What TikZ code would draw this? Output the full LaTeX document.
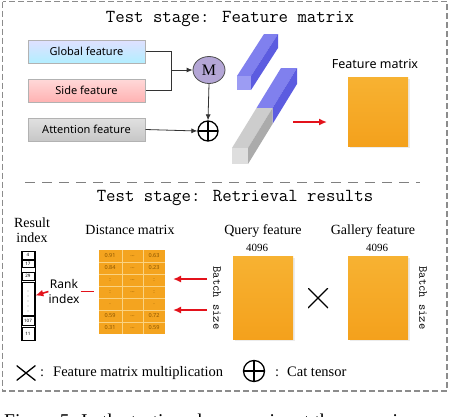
\documentclass[tikz,border=0pt]{standalone}
\usepackage{fontspec}
\setmainfont{Liberation Serif}
\setsansfont{Noto Sans}
\usetikzlibrary{arrows.meta,shapes.geometric,shadows}

\definecolor{orangeA}{HTML}{F7B232}
\definecolor{orangeB}{HTML}{F4A11C}
\definecolor{gridline}{HTML}{FAD281}
\definecolor{cellink}{HTML}{8A5500}
\definecolor{arrowred}{HTML}{E3121B}
\definecolor{mergefill}{HTML}{B4A6D6}
\definecolor{barfront}{HTML}{8080EE}
\definecolor{barside}{HTML}{5C5CE0}
\definecolor{barend}{HTML}{9C9CF3}
\definecolor{grayfront}{HTML}{CDCDCD}
\definecolor{grayside}{HTML}{ABABAB}
\definecolor{grayend}{HTML}{DEDEDE}

\tikzset{
	featbox/.style={draw=black!30,line width=1pt,minimum width=117pt,minimum height=23pt,inner sep=0pt,font=\sffamily\fontsize{11}{13}\selectfont},
	featmat/.style={top color=orangeA,bottom color=orangeB,draw=none,minimum width=60pt,inner sep=0pt,
		drop shadow={opacity=0.15,shadow xshift=1.5pt,shadow yshift=-1.5pt}},
	cattensor/.style={circle,draw=black,line width=1.3pt,minimum size=20pt,inner sep=0pt,
		path picture={\draw[line width=1.3pt] (path picture bounding box.north) -- (path picture bounding box.south)
			(path picture bounding box.west) -- (path picture bounding box.east);}},
	matmul/.style={minimum width=20pt,minimum height=20pt,inner sep=0pt,
		path picture={\draw[line width=1.3pt] (path picture bounding box.north west) -- (path picture bounding box.south east)
			(path picture bounding box.south west) -- (path picture bounding box.north east);}},
	stagetitle/.style={font=\ttfamily\fontsize{18.3}{20}\selectfont,inner sep=0pt},
	seriflbl/.style={font=\fontsize{14}{15}\selectfont,inner sep=0pt,align=center},
	batch/.style={font=\ttfamily\fontsize{12.2}{13}\selectfont,rotate=-90,inner sep=0pt},
	idxcell/.style={draw=black,line width=0.6pt,minimum width=12pt,inner sep=0pt,font=\sffamily\fontsize{4.5}{5}\selectfont},
	conn/.style={draw=black!80,line width=0.8pt},
	redarrow/.style={draw=arrowred,line width=1.6pt,-{Latex[length=8pt,width=7pt]}},
}

\begin{document}
\begin{tikzpicture}[x=1pt,y=-1pt]
	\clip (0,0) rectangle (474,416);
	\fill[white] (0,0) rectangle (474,416);
	% outer frame and separator
	\draw[draw=black!45,line width=1.4pt,dash pattern=on 6pt off 3pt] (2.5,1.5) rectangle (447,391);
	\draw[draw=black!50,line width=0.9pt,dash pattern=on 10pt off 7pt] (25,182) -- (420,182);

	% test stage: feature matrix
	\node[stagetitle] (ttop) at (230,19) {Test stage: Feature matrix};
	\node[featbox,top color=blue!12,bottom color=blue!22!cyan!30] (glob) at (86.5,51.5) {Global feature};
	\node[featbox,top color=red!15,bottom color=red!30] (side) at (86.5,90.5) {Side feature};
	\node[featbox,top color=black!12,bottom color=black!22] (att) at (86.5,129.5) {Attention feature};
	\node[ellipse,fill=mergefill,draw=black!70,line width=0.8pt,minimum width=32pt,minimum height=27pt,inner sep=0pt,font=\fontsize{16}{16}\selectfont] (mrg) at (209,70) {M};
	\node[cattensor] (cat) at (208,131) {};
	\coordinate (jn) at (171,70);
	\draw[conn] (glob.east) -| (jn);
	\draw[conn] (side.east) -| (jn);
	\draw[conn,-{Latex[length=6pt,width=5pt]}] (jn) -- (mrg.west);
	\draw[conn,-{Latex[length=6pt,width=5pt]}] (mrg.south) -- (cat.north);
	\draw[conn,-{Latex[length=6pt,width=5pt]}] (att.east) -- (cat.west);

	% bars
	\fill[barfront] (237,76) -- (251,76) -- (278,34) -- (264,34) -- cycle;
	\fill[barside] (251,76) -- (251,90) -- (278,48) -- (278,34) -- cycle;
	\fill[barend] (237,76) rectangle (251,90);
	\fill[barfront] (256.5,108) -- (272.5,108) -- (297,68) -- (281,68) -- cycle;
	\fill[barside] (272.5,108) -- (272.5,124) -- (297,84) -- (297,68) -- cycle;
	\fill[grayfront] (232,148) -- (248,148) -- (272.5,108) -- (256.5,108) -- cycle;
	\fill[grayside] (248,148) -- (248,164) -- (272.5,124) -- (272.5,108) -- cycle;
	\fill[grayend] (232,148) rectangle (248,164);

	\coordinate (ra0) at (293,122);
	\coordinate (ra1) at (327,122);
	\draw[redarrow] (ra0) -- (ra1);
	\node[font=\sffamily\fontsize{12.5}{13}\selectfont,inner sep=0pt] (fml) at (375,64) {Feature matrix};
	\node[featmat,minimum height=69pt] (fm) at (378,111.5) {};

	% test stage: retrieval results
	\node[stagetitle] (tbot) at (235,198) {Test stage: Retrieval results};
	\node[seriflbl] (resl) at (32,230.5) {Result\\index};
	\node[seriflbl] (distl) at (130,230) {Distance matrix};
	\node[seriflbl] (qryl) at (263,231) {Query feature};
	\node[seriflbl] (gall) at (373,231) {Gallery feature};
	\node[font=\fontsize{11}{12}\selectfont,inner sep=0pt] (qn) at (257,248) {4096};
	\node[font=\fontsize{11}{12}\selectfont,inner sep=0pt] (gn) at (377,248) {4096};

	% result index
	\node[draw=black,line width=0.7pt,minimum width=14pt,minimum height=89pt,inner sep=0pt] (col) at (28,295.5) {};
	\foreach \yy/\hh/\t in {255/8/4, 263.5/7/17, 276/8/29, 298.5/33/{}, 320.5/9/107, 333.5/13/11}
		\node[idxcell,minimum height=\hh pt] (c\yy) at (28,\yy) {\t};
	\foreach \yy in {291,296,301,306,311}
		\fill (28,\yy) circle (0.45pt);
	\node[font=\sffamily\fontsize{12}{15}\selectfont,inner sep=0pt,align=center] (rank) at (64,291.5) {Rank\\index};
	\draw[redarrow] (rank.west) -- (col.east);
	\draw[draw=arrowred,line width=1.6pt] ([xshift=1pt]rank.east) -- ++(13,0);

	% distance matrix
	\node[fill=orangeB!85!orangeA,minimum width=66pt,minimum height=84pt,inner sep=0pt] (dist) at (132,292) {};
	\foreach \yy in {262,274,286,298,310,322}
		\draw[gridline,line width=0.5pt] (99,\yy) -- (165,\yy);
	\foreach \xx in {122,143}
		\draw[gridline,line width=0.5pt] (\xx,250) -- (\xx,334);
	\foreach \yy/\va/\vb/\vc in {256/0.91/\ldots/0.63, 268/0.84/\ldots/0.23, 280/:/\ldots/:, 292/:/\ldots/:, 304/./{}/., 316/0.59/\ldots/0.72, 328/0.31/\ldots/0.59}{
		\node[text=cellink,font=\sffamily\fontsize{5.5}{6}\selectfont,inner sep=0pt] (va\yy) at (110,\yy) {\va};
		\node[text=cellink,font=\sffamily\fontsize{5.5}{6}\selectfont,inner sep=0pt] (vb\yy) at (132.5,\yy) {\vb};
		\node[text=cellink,font=\sffamily\fontsize{5.5}{6}\selectfont,inner sep=0pt] (vc\yy) at (154,\yy) {\vc};
	}

	% query x gallery
	\node[featmat,minimum height=83pt] (qry) at (263,297.5) {};
	\node[featmat,minimum height=83pt] (gal) at (378,297.5) {};
	\node[matmul] (mul) at (318,298) {};
	\node[batch] (bs1) at (217,298) {Batch size};
	\node[batch] (bs2) at (423,298) {Batch size};
	\coordinate (rb0) at (207,279);
	\coordinate (rb1) at (173,279);
	\coordinate (rc0) at (207,310);
	\coordinate (rc1) at (173,310);
	\draw[redarrow] (rb0) -- (rb1);
	\draw[redarrow] (rc0) -- (rc1);

	% legend
	\node[matmul,minimum width=19pt,minimum height=15pt] (lgx) at (26,373) {};
	\node[seriflbl,font=\fontsize{14.5}{15}\selectfont,anchor=west] (lgxt) at (40,373) {:\hspace{9pt}Feature matrix multiplication};
	\node[cattensor,minimum size=21pt] (lgc) at (254,371) {};
	\node[seriflbl,font=\fontsize{14.5}{15}\selectfont,anchor=west] (lgct) at (275,372) {:\hspace{8pt}Cat tensor};

	% caption, cut off at the bottom edge
	\node[anchor=base west,inner sep=0pt,font=\fontsize{19.5}{21}\selectfont] (capt) at (4,427) {Figure 5. In the testing phase, we input the query images and};
\end{tikzpicture}
\end{document}
